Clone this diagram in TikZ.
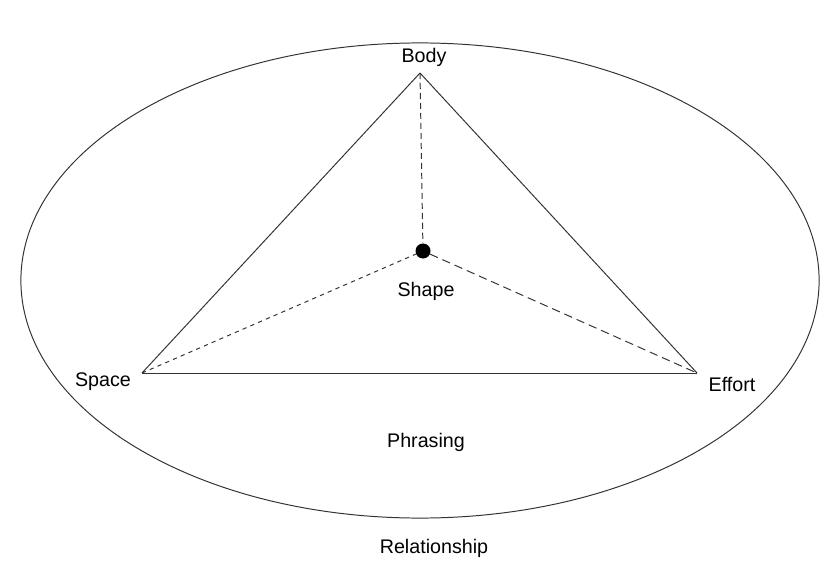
\documentclass[tikz,border=0pt]{standalone}
\usepackage{fontspec}
\setmainfont{Liberation Sans}
\usetikzlibrary{positioning}

\begin{document}
\begin{tikzpicture}[
                x=0.025cm, y=-0.025cm,
                edge/.style={draw=black!80, line width=0.7pt},
                spoke/.style={edge, dash pattern=on 4.3pt off 2.8pt},
                lbl/.style={font=\fontsize{14}{16}\selectfont, anchor=base, inner sep=0pt},
                hub/.style={circle, fill=black, minimum size=0.375cm, inner sep=0pt}
            ]
                \useasboundingbox (0,0) rectangle (840,584);

                % outer ring
                \draw[edge] (420,280.5) ellipse [x radius=9.975cm, y radius=5.9375cm];

                % corners of the triangle
                \coordinate (body) at (420,73);
                \coordinate (space) at (142,373);
                \coordinate (effort) at (697,373);
                \node[hub] (shape) at (423,251) {};

                \draw[edge] (body) -- (space);
                \draw[edge] (space) -- (effort);
                \draw[edge] (effort) -- (body);

                \draw[spoke] (body) -- (shape);
                \draw[spoke, dash pattern=on 3pt off 3pt] (space) -- (shape);
                \draw[spoke, dash pattern=on 6pt off 3.5pt] (shape) -- (effort);

                \node[lbl] (bodylbl) at (424,63) {Body};
                \node[lbl] (shapelbl) at (426,296) {Shape};
                \node[lbl] (spacelbl) at (103,386) {Space};
                \node[lbl] (effortlbl) at (732,391) {Effort};
                \node[lbl] (phrasinglbl) at (426,447) {Phrasing};
                \node[lbl] (relationlbl) at (434,553) {Relationship};

            \end{tikzpicture}
\end{document}
